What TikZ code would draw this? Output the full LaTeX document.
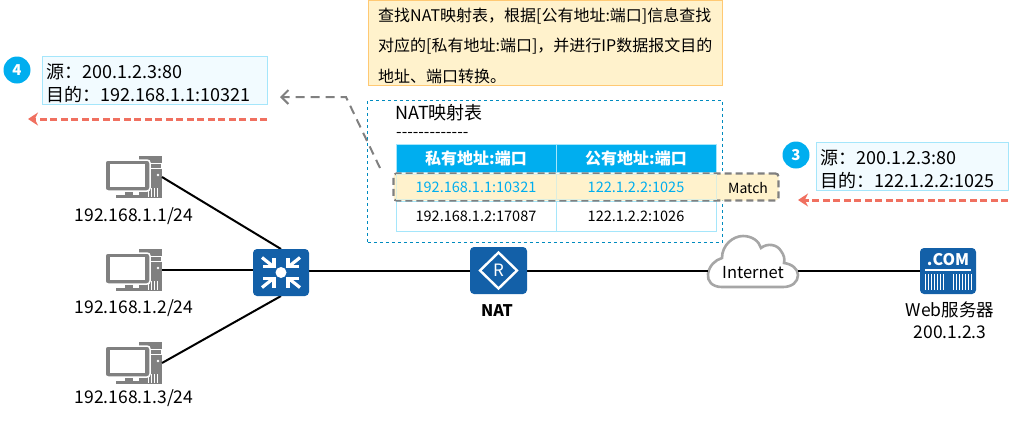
\documentclass[tikz,border=0pt]{standalone}
\usepackage{fontspec}
\setmainfont{Noto Sans CJK SC}
\newfontfamily\plainfont{Noto Sans CJK SC}
\usetikzlibrary{arrows.meta}
\definecolor{iconblue}{HTML}{1360A8}
\definecolor{skyblue}{HTML}{00AEEF}
\definecolor{notefill}{HTML}{F2FBFF}
\definecolor{noteline}{HTML}{A5E6FB}
\definecolor{tipfill}{HTML}{FFF2CC}
\definecolor{tipline}{HTML}{FFC973}
\definecolor{flowred}{HTML}{F07060}
\definecolor{pcgray}{HTML}{808080}
\newcommand{\sz}[1]{\fontsize{#1}{#1}\selectfont}
\tikzset{
  notebox/.style={draw=noteline, fill=notefill, line width=1pt, inner sep=0pt, minimum height=48pt, minimum width=#1},
  notetext/.style={anchor=west, inner sep=0pt, align=left, font=\sz{18}, execute at begin node={\baselineskip=23pt}},
  stepdot/.style={circle, fill=skyblue, text=white, inner sep=0pt, minimum size=27pt, font=\sz{15}\bfseries},
  flowarrow/.style={draw=flowred, line width=3pt, dash pattern=on 7pt off 3.5pt, -{Stealth[length=10pt,width=13pt]}},
  lookarrow/.style={draw=pcgray, line width=2pt, dash pattern=on 9pt off 6pt, -{Straight Barb[length=7pt,width=14pt]}},
  hdcell/.style={draw=noteline, fill=skyblue, text=white, minimum width=#1, minimum height=28pt, inner sep=0pt, font=\sz{16}\bfseries},
  rowcell/.style={draw=noteline, minimum width=#1, minimum height=29.5pt, inner sep=0pt, font=\sz{14.5}},
  iconbox/.style={minimum width=#1, inner sep=0pt, outer sep=0pt},
  netlabel/.style={inner sep=0pt, font=\sz{17.5}},
  netline/.style={line width=2pt},
  pcicon/.pic={
    \fill[pcgray] (5,-21) rectangle (28,21);
    \fill[pcgray] (-18,18) rectangle (5,21);
    \fill[pcgray] (-9,11) rectangle (-1,18);
    \draw[white, line width=.8pt] (14,-14) rectangle (27,-9);
    \fill[white] (24,-2) circle (1.3pt);
    \foreach \vx in {14,17,20,23}
      \draw[white, line width=1pt] (\vx,11) -- (\vx,20);
    \draw[white, line width=1.5pt, fill=pcgray, rounded corners=3pt] (-29,-17) rectangle (16,14);
    \fill[white] (-24,-13) rectangle (11,10);
  },
  swicon/.pic={
    \fill[iconblue, rounded corners=4pt] (-28,-23.5) rectangle (28,23.5);
    \fill[white] (0,0) circle (5.5pt);
    \foreach \sx/\sy in {1/1,1/-1,-1/1,-1/-1} {
      \draw[white, line width=3.2pt] (\sx*19,\sy*15) -- (\sx*9,\sy*7);
      \draw[white, line width=3.2pt, miter limit=4] (\sx*18,\sy*6) -- (\sx*7,\sy*6) -- (\sx*7,\sy*15);
    }
  },
  rticon/.pic={
    \fill[iconblue, rounded corners=4pt] (-28.5,-23.5) rectangle (28.5,23.5);
    \draw[white, line width=2.4pt] (-18.5,0) -- (0,-18) -- (18.5,0) -- (0,18) -- cycle;
    \node[text=white, inner sep=0pt, font=\sz{17}] at (0,0) {R};
  },
  comicon/.pic={
    \fill[iconblue, rounded corners=4pt] (-28,-23) rectangle (28,23);
    \node[text=white, inner sep=0pt, font=\sz{16}\bfseries] at (0,-11) {.COM};
    \draw[white, line width=1.2pt] (-23,-1) -- (23,-1);
    \foreach \bx in {-23,-20,-17,-14,-11,-8,-5,5,8,11,14,17,20,23}
      \draw[white, line width=1pt] (\bx,3) -- (\bx,19);
  },
  cloudicon/.pic={
    \draw[draw=black!35, line width=2.6pt, fill=white]
      (-31,22) .. controls (-41,22) and (-46,16) .. (-45,9)
      .. controls (-44,1) and (-38,-5) .. (-31,-7)
      .. controls (-31,-20) and (-20,-29) .. (-10,-29)
      .. controls (-1,-29) and (6,-24) .. (8,-17)
      .. controls (14,-22) and (24,-21) .. (28,-14)
      .. controls (31,-10) and (32,-6) .. (31,-2)
      .. controls (39,-1) and (45,4) .. (45,10)
      .. controls (45,17) and (39,22) .. (30,22)
      -- cycle;
  }
}

\begin{document}
\begin{tikzpicture}[x=1pt, y=-1pt]

  \useasboundingbox (0,0) rectangle (1017,421);

  \node[draw=tipline, fill=tipfill, line width=1pt, minimum width=354pt, minimum height=85pt, inner sep=0pt] (tipbox) at (545,42.5) {};
  \node[anchor=west, inner sep=0pt, font=\sz{16}] (tipA) at (378,16) {查找NAT映射表，根据[公有地址:端口]信息查找};
  \node[anchor=west, inner sep=0pt, font=\sz{16}] (tipB) at (378,46) {对应的[私有地址:端口]，并进行IP数据报文目的};
  \node[anchor=west, inner sep=0pt, font=\sz{16}] (tipC) at (378,76) {地址、端口转换。};

  \node[draw=skyblue!80!black, dashed, line width=1pt, minimum width=354.5pt, minimum height=142pt, inner sep=0pt] (tablebox) at (545,171) {};
  \node[anchor=west, inner sep=0pt, font=\sz{18}] (tabletitle) at (395,113) {NAT映射表};
  \node[anchor=west, inner sep=0pt, font=\plainfont\sz{16}] (tabledash) at (396,135) {-------------};

  \node[hdcell=160pt] (headA) at (476,158) {私有地址:端口};
  \node[hdcell=160pt] (headB) at (636,158) {公有地址:端口};
  \node[rowcell=160pt] (rowBA) at (476,216) {192.168.1.2:17087};
  \node[rowcell=160pt] (rowBB) at (636,216) {122.1.2.2:1026};

  \node[draw=pcgray, fill=tipfill, line width=2.2pt, dash pattern=on 7pt off 4pt, rounded corners=3pt, minimum width=385pt, minimum height=27pt, inner sep=0pt] (matchbar) at (586,187) {};
  \node[rowcell=160pt, draw=noteline!40!tipfill, text=skyblue, minimum height=25pt] (rowAA) at (476,187) {192.168.1.1:10321};
  \node[rowcell=160pt, draw=noteline!40!tipfill, text=skyblue, minimum height=25pt] (rowAB) at (636,187) {122.1.2.2:1025};
  \node[inner sep=0pt, font=\sz{14}] (matchtext) at (748,188) {Match};

  \node[stepdot] (stepD) at (17,70) {4};
  \node[notebox=225pt] (noteD) at (154.5,80) {};
  \node[notetext] (noteDtext) at (46,83) {源：200.1.2.3:80\\目的：192.168.1.1:10321};
  \node[stepdot] (stepC) at (796,155) {3};
  \node[notebox=192pt] (noteC) at (912,166.5) {};
  \node[notetext] (noteCtext) at (820,169.5) {源：200.1.2.3:80\\目的：122.1.2.2:1025};

  \coordinate (flowDa) at (267,119);
  \coordinate (flowDb) at (28,119);
  \coordinate (flowCa) at (1008,200);
  \coordinate (flowCb) at (798,200);
  \draw[flowarrow] (flowDa) -- (flowDb);
  \draw[flowarrow] (flowCa) -- (flowCb);

  \coordinate (lookA) at (380,168);
  \coordinate (lookB) at (346,97);
  \coordinate (lookC) at (280,97);
  \draw[lookarrow] (lookA) -- (lookB) -- (lookC);

  \node[iconbox=56pt, minimum height=42pt] (pcA) at (134,177) {};
  \node[iconbox=56pt, minimum height=42pt] (pcB) at (134,270) {};
  \node[iconbox=56pt, minimum height=42pt] (pcC) at (134,363) {};
  \pic at (pcA) {pcicon};
  \pic at (pcB) {pcicon};
  \pic at (pcC) {pcicon};
  \node[netlabel] (pcAtext) at (134,216) {192.168.1.1/24};
  \node[netlabel] (pcBtext) at (134,308) {192.168.1.2/24};
  \node[netlabel] (pcCtext) at (134,398) {192.168.1.3/24};

  \node[iconbox=90pt, minimum height=20pt] (inetbox) at (753,273) {};
  \pic at (inetbox) [yshift=8pt] {cloudicon};
  \node[inner sep=0pt, font=\sz{16.5}] (inet) at (inetbox) {Internet};

  \node[iconbox=56pt, minimum height=47pt] (swc) at (281,272.5) {};
  \node[iconbox=57pt, minimum height=47pt] (nat) at (498.5,270.5) {};
  \node[iconbox=56pt, minimum height=46pt] (web) at (948,271) {};

  \draw[netline] (pcA.east) -- (swc.north);
  \draw[netline] (pcB.east) -- (swc.west |- pcB.east);
  \draw[netline] (pcC.east) -- (swc.south);
  \draw[netline] (swc.east |- nat.west) -- (nat.west);
  \draw[netline] (nat.east) -- (inetbox.west |- nat.east);
  \draw[netline] (inetbox.east |- nat.east) -- (web.west |- nat.east);

  \pic at (swc) {swicon};
  \pic at (nat) {rticon};
  \pic at (web) {comicon};

  \node[inner sep=0pt, font=\sz{16}\bfseries] (nattext) at (497,311) {NAT};
  \node[netlabel] (webtext) at (950,310) {Web服务器};
  \node[netlabel] (webaddr) at (950,332) {200.1.2.3};

\end{tikzpicture}
\end{document}
